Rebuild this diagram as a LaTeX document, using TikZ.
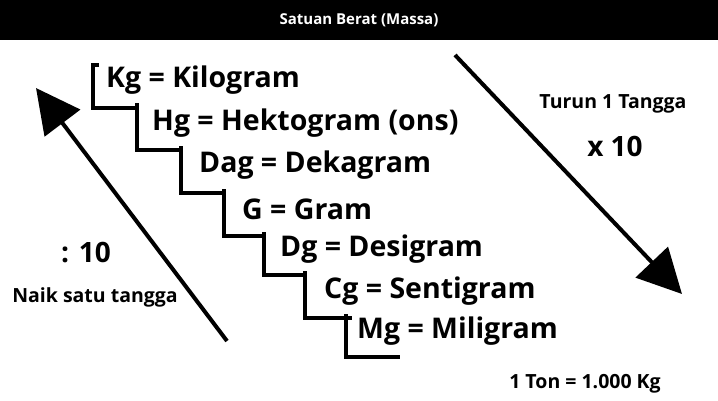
\documentclass[tikz,border=0pt]{standalone}
\usepackage{fontspec}
\setmainfont{Open Sans}
\usetikzlibrary{arrows.meta}
\begin{document}
\begin{tikzpicture}[x=1pt,y=-1pt,
  unit/.style={anchor=west,font=\fontsize{28.5}{32}\selectfont\bfseries,inner sep=0pt},
  lbl/.style={font=\fontsize{19.5}{22}\selectfont\bfseries,inner sep=0pt},
  big/.style={line width=4pt,-{Triangle[length=44pt,width=44pt]}}]
\useasboundingbox (0,0) rectangle (718,400);
\fill[black] (0,0) rectangle (718,40);
\node[font=\fontsize{15}{18}\selectfont\bfseries,inner sep=0pt,text=white] (title) at (359,20) {Satuan Berat (Massa)};
\node[unit] (kg) at (106,80) {Kg = Kilogram};
\node[unit] (hg) at (152,123) {Hg = Hektogram (ons)};
\node[unit] (dag) at (199,165) {Dag = Dekagram};
\node[unit] (g) at (242,209) {G = Gram};
\node[unit] (dg) at (280,249) {Dg = Desigram};
\node[unit] (cg) at (324,291) {Cg = Sentigram};
\node[unit] (mg) at (357,331) {Mg = Miligram};
\draw[line width=3.5pt] (99,65) -- (93,65) -- (93,108) -- (137,108) -- (137,150) -- (181,150) -- (181,193) -- (224,193) -- (224,236) -- (264,236) -- (264,275) -- (305,275) -- (305,318) -- (346,318) -- (346,357) -- (400,357);
\draw[line width=3.5pt] (137,103)--(137,108) (181,146)--(181,150) (224,189)--(224,193) (264,232)--(264,236) (305,271)--(305,275) (346,314)--(346,318) (346,318)--(352,318);
\coordinate (ls) at (227,341);
\coordinate (le) at (36,88);
\draw[big] (ls) -- (le);
\coordinate (rs) at (455,55);
\coordinate (re) at (682,294);
\draw[big] (rs) -- (re);
\node[lbl] (turun) at (613,104) {Turun 1 Tangga};
\node[font=\fontsize{28}{32}\selectfont\bfseries] (x10) at (615,146) {x 10};
\node[font=\fontsize{28}{32}\selectfont\bfseries] (d10) at (86,253) {: 10};
\node[lbl] (naik) at (95,297) {Naik satu tangga};
\node[lbl] (ton) at (585,384) {1 Ton = 1.000 Kg};
\end{tikzpicture}
\end{document}
